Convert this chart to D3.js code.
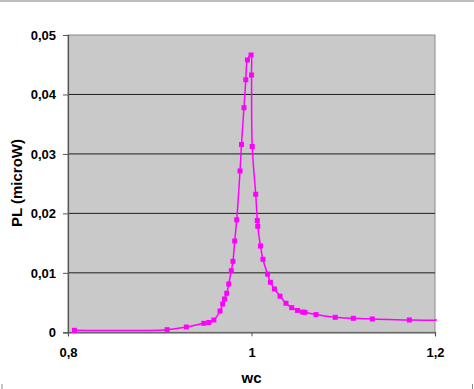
<!DOCTYPE html>
<html>
<head>
<meta charset="utf-8">
<script src="https://cdn.jsdelivr.net/npm/d3@7"></script>
<style>
  body { margin: 0; background: #fff; }
  svg { display: block; font-family: "Liberation Sans", Arial, sans-serif; }
</style>
</head>
<body>
<svg id="chart"></svg>
<script>
const width = 474;
const height = 389;

const wc = [0.807, 0.908, 0.929, 0.948, 0.9535, 0.959, 0.9657, 0.9686, 0.9706, 0.973, 0.9752,
    0.978, 0.9798, 0.9817, 0.9839, 0.9875, 0.9891, 0.9918, 0.9938, 0.9956, 0.9995,
    1.0, 1.0008, 1.0046, 1.0063, 1.0068, 1.0098, 1.0125, 1.0175, 1.0206, 1.025,
    1.0311, 1.0376, 1.0438, 1.0501, 1.0557, 1.0583, 1.0703, 1.0913, 1.111, 1.1317,
    1.172, 1.21];
const pl = [0.00034, 0.00044, 0.00089, 0.00151, 0.00165, 0.00207, 0.00358, 0.00476, 0.0056, 0.00656, 0.00812,
    0.01036, 0.01194, 0.01535, 0.01892, 0.02713, 0.03158, 0.03777, 0.04248, 0.0458, 0.04664,
    0.04327, 0.03125, 0.02321, 0.0188, 0.01783, 0.01451, 0.01228, 0.00979, 0.00841, 0.00728,
    0.00607, 0.00488, 0.00414, 0.00368, 0.00341, 0.00336, 0.00298, 0.00252, 0.00235, 0.00224,
    0.00207, 0.00205];

const yTicks = [0, 0.01, 0.02, 0.03, 0.04, 0.05];
const xTicks = [0.8, 1, 1.2];

const fmt = d => String(d).replace(".", ",");

const svg = d3.select("#chart").attr("width", width).attr("height", height);

const plotL = 68, plotR = 435, plotT = 35, plotB = 332.3;

const x = d3.scaleLinear().domain([0.8, 1.2]).range([plotL, plotR]);
const y = d3.scaleLinear().domain([0, 0.05]).range([plotB, plotT]);

// outer chart border bits
svg.append("line").attr("x1", 0).attr("x2", width).attr("y1", 1).attr("y2", 1)
    .attr("stroke", "#bdbdbd").attr("stroke-width", 2);
svg.append("line").attr("x1", 2).attr("x2", 2).attr("y1", 384).attr("y2", 389).attr("stroke", "#888");
svg.append("line").attr("x1", 472.5).attr("x2", 472.5).attr("y1", 384).attr("y2", 389).attr("stroke", "#888");

// plot area
svg.append("rect")
    .attr("x", plotL).attr("y", plotT)
    .attr("width", plotR - plotL).attr("height", plotB - plotT)
    .attr("fill", "#c9c9c9")
    .attr("stroke", "#8a8a8a").attr("stroke-width", 1);

// gridlines
svg.append("g").selectAll("line")
    .data(yTicks.filter(d => d > 0 && d < 0.05))
    .enter().append("line")
    .attr("x1", plotL).attr("x2", plotR)
    .attr("y1", d => y(d)).attr("y2", d => y(d))
    .attr("stroke", "#1e1e1e").attr("stroke-width", 1);

// axes
const yAxis = svg.append("g")
    .attr("transform", `translate(${plotL},0)`)
    .call(d3.axisLeft(y).tickValues(yTicks).tickFormat(fmt).tickSize(5).tickPadding(7));
const xAxis = svg.append("g")
    .attr("transform", `translate(0,${plotB})`)
    .call(d3.axisBottom(x).tickValues(xTicks).tickFormat(fmt).tickSize(4).tickPadding(11));

[yAxis, xAxis].forEach(a => {
    a.select(".domain").attr("stroke", "#555").attr("stroke-width", 1.2);
    a.selectAll(".tick line").attr("stroke", "#555");
    a.selectAll("text").attr("font-size", 13).attr("font-weight", "bold").attr("fill", "#000")
        .style("font-family", "'Liberation Sans', Arial, sans-serif");
});

// axis titles
svg.append("text")
    .attr("x", 251.5).attr("y", 383)
    .attr("text-anchor", "middle")
    .attr("font-size", 15).attr("font-weight", "bold")
    .text("wc");
svg.append("text")
    .attr("transform", "translate(22,183) rotate(-90)")
    .attr("text-anchor", "middle")
    .attr("font-size", 15).attr("font-weight", "bold")
    .text("PL (microW)");

// series
const pts = wc.map((d, i) => ({ wc: d, pl: pl[i] }));

svg.append("clipPath").attr("id", "clip")
    .append("rect").attr("x", plotL).attr("y", 0).attr("width", plotR - plotL + 2).attr("height", height);

const line = d3.line()
    .x(d => x(d.wc)).y(d => y(d.pl))
    .curve(d3.curveCatmullRom.alpha(0.5));

const series = svg.append("g").attr("clip-path", "url(#clip)");
series.append("path")
    .datum(pts)
    .attr("d", line)
    .attr("fill", "none")
    .attr("stroke", "#ff00ff")
    .attr("stroke-width", 1.5);

series.selectAll("rect.pt")
    .data(pts.filter(d => d.wc <= 1.2))
    .enter().append("rect")
    .attr("class", "pt")
    .attr("x", d => x(d.wc) - 2.5).attr("y", d => y(d.pl) - 2.5)
    .attr("width", 5).attr("height", 5)
    .attr("fill", "#ff00ff");
</script>
</body>
</html>
